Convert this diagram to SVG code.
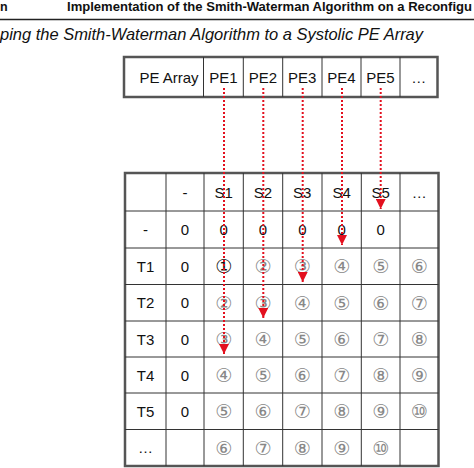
<svg xmlns="http://www.w3.org/2000/svg" width="474" height="468" viewBox="0 0 474 468">
<defs>
<style>
.hdr{font-family:"Liberation Sans",Arial,sans-serif;font-weight:bold;font-size:12.5px;fill:#111}
.cap{font-family:"Liberation Sans",Arial,sans-serif;font-style:italic;font-size:17px;fill:#111}
.t{font-family:"Liberation Sans",Arial,sans-serif;font-size:15px;fill:#111;text-anchor:middle}
.c{font-family:"DejaVu Sans",sans-serif;font-size:19px;fill:#888;text-anchor:middle}
.cb{font-family:"DejaVu Sans",sans-serif;font-size:19px;fill:#111;text-anchor:middle}
.outer{fill:#fff;stroke:#555;stroke-width:2.5}
.grid{stroke:#333;stroke-width:1;fill:none}
.arr{stroke:#e3101e;stroke-width:2;stroke-dasharray:2 2;fill:none;marker-end:url(#ah)}
</style>
<marker id="ah" markerUnits="userSpaceOnUse" markerWidth="10" markerHeight="10" viewBox="0 0 10 10" refX="10" refY="5" orient="auto">
<path d="M0,0 L10,5 L0,10 Z" fill="#e3101e"/>
</marker>
</defs>
<rect width="474" height="468" fill="#fff"/>
<text class="hdr" x="0" y="11">n</text>
<text class="hdr" x="67" y="11" textLength="405" lengthAdjust="spacingAndGlyphs">Implementation of the Smith-Waterman Algorithm on a Reconfigu</text>
<line x1="0" y1="19.5" x2="474" y2="19.5" stroke="#222" stroke-width="1.5"/>
<text class="cap" x="0" y="40" textLength="423" lengthAdjust="spacingAndGlyphs">ping the Smith-Waterman Algorithm to a Systolic PE Array</text>

<g id="pe-array">
<rect class="outer" x="124" y="57" width="313.5" height="40"/>
<path class="grid" d="M203.5,57V97M243.3,57V97M282.7,57V97M322,57V97M361,57V97M400,57V97"/>
<text class="t" x="169" y="83">PE Array</text>
<text class="t" x="223.4" y="83">PE1</text>
<text class="t" x="263" y="83">PE2</text>
<text class="t" x="302.3" y="83">PE3</text>
<text class="t" x="341.5" y="83">PE4</text>
<text class="t" x="380.5" y="83">PE5</text>
<text class="t" x="418.7" y="83">…</text>
</g>

<g id="matrix">
<rect class="outer" x="125" y="173" width="313.5" height="293"/>
<path class="grid" d="M166,173V466M204,173V466M243.3,173V466M282.7,173V466M322,173V466M361.3,173V466M400,173V466M125,211H438.5M125,248H438.5M125,284.5H438.5M125,321H438.5M125,357H438.5M125,393H438.5M125,429.5H438.5"/>
<text class="t" x="185" y="198">-</text>
<text class="t" x="223.7" y="198">S1</text>
<text class="t" x="263" y="198">S2</text>
<text class="t" x="302.3" y="198">S3</text>
<text class="t" x="341.7" y="198">S4</text>
<text class="t" x="380.7" y="198">S5</text>
<text class="t" x="419.3" y="198">…</text>

<text class="t" x="145.5" y="235">-</text>
<text class="t" x="185" y="235">0</text>
<text class="t" x="223.7" y="235">0</text>
<text class="t" x="263" y="235">0</text>
<text class="t" x="302.3" y="235">0</text>
<text class="t" x="341.7" y="235">0</text>
<text class="t" x="380.7" y="235">0</text>

<text class="t" x="145.5" y="272">T1</text>
<text class="t" x="185" y="272">0</text>
<text class="cb" x="223.7" y="273">①</text>
<text class="c" x="263" y="273">②</text>
<text class="c" x="302.3" y="273">③</text>
<text class="c" x="341.7" y="273">④</text>
<text class="c" x="380.7" y="273">⑤</text>
<text class="c" x="419.3" y="273">⑥</text>

<text class="t" x="145.5" y="308">T2</text>
<text class="t" x="185" y="308">0</text>
<text class="c" x="223.7" y="309.5">②</text>
<text class="c" x="263" y="309.5">③</text>
<text class="c" x="302.3" y="309.5">④</text>
<text class="c" x="341.7" y="309.5">⑤</text>
<text class="c" x="380.7" y="309.5">⑥</text>
<text class="c" x="419.3" y="309.5">⑦</text>

<text class="t" x="145.5" y="344.5">T3</text>
<text class="t" x="185" y="344.5">0</text>
<text class="c" x="223.7" y="345.5">③</text>
<text class="c" x="263" y="345.5">④</text>
<text class="c" x="302.3" y="345.5">⑤</text>
<text class="c" x="341.7" y="345.5">⑥</text>
<text class="c" x="380.7" y="345.5">⑦</text>
<text class="c" x="419.3" y="345.5">⑧</text>

<text class="t" x="145.5" y="380.5">T4</text>
<text class="t" x="185" y="380.5">0</text>
<text class="c" x="223.7" y="381.5">④</text>
<text class="c" x="263" y="381.5">⑤</text>
<text class="c" x="302.3" y="381.5">⑥</text>
<text class="c" x="341.7" y="381.5">⑦</text>
<text class="c" x="380.7" y="381.5">⑧</text>
<text class="c" x="419.3" y="381.5">⑨</text>

<text class="t" x="145.5" y="417">T5</text>
<text class="t" x="185" y="417">0</text>
<text class="c" x="223.7" y="418">⑤</text>
<text class="c" x="263" y="418">⑥</text>
<text class="c" x="302.3" y="418">⑦</text>
<text class="c" x="341.7" y="418">⑧</text>
<text class="c" x="380.7" y="418">⑨</text>
<text class="c" x="419.3" y="418">⑩</text>

<text class="t" x="145.5" y="453">…</text>
<text class="c" x="223.7" y="454.5">⑥</text>
<text class="c" x="263" y="454.5">⑦</text>
<text class="c" x="302.3" y="454.5">⑧</text>
<text class="c" x="341.7" y="454.5">⑨</text>
<text class="c" x="380.7" y="454.5">⑩</text>
</g>

<g id="connectors">
<line class="arr" x1="224" y1="88" x2="224" y2="354"/>
<line class="arr" x1="263.3" y1="88" x2="263.3" y2="318"/>
<line class="arr" x1="302.7" y1="88" x2="302.7" y2="282"/>
<line class="arr" x1="342" y1="88" x2="342" y2="245"/>
<line class="arr" x1="380.7" y1="88" x2="380.7" y2="209"/>
</g>
</svg>
